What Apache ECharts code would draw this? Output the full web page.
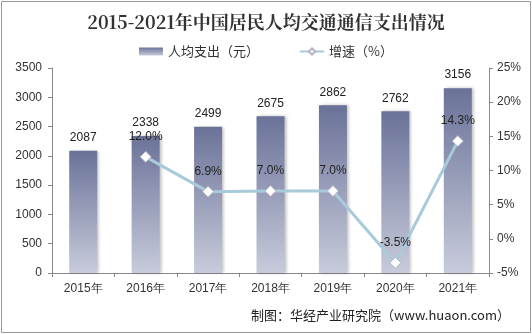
<!DOCTYPE html>
<html><head><meta charset="utf-8">
<script src="https://cdn.jsdelivr.net/npm/echarts@6/dist/echarts.min.js"></script>
<style>html,body{margin:0;padding:0;background:#fff}#c{width:532px;height:334px}</style>
</head><body><div id="c"></div>
<script>
var categories = ['2015年','2016年','2017年','2018年','2019年','2020年','2021年'];
var spending = [2087, 2338, 2499, 2675, 2862, 2762, 3156];
var growth = [null, 12.0, 6.9, 7.0, 7.0, -3.5, 14.3];
var leftTicks = [0, 3500, 500];
var rightTicks = [-5, 25, 5];

var chart = echarts.init(document.getElementById('c'));
var font = 'Liberation Sans, Arial, sans-serif';
chart.setOption({
  animation: false,
  title: {
    text: '2015-2021年中国居民人均交通通信支出情况',
    left: 'center', top: 8,
    textStyle: {fontFamily: 'Noto Serif CJK SC, Noto Sans CJK SC, serif', fontWeight: 'bold', fontSize: 18, color: '#333'}
  },
  legend: {
    top: 40, left: 'center', itemGap: 40, itemWidth: 24, itemHeight: 8,
    textStyle: {fontFamily: 'Noto Sans CJK SC, sans-serif', fontSize: 13, color: '#333'},
    data: [
      {name: '人均支出（元）', icon: 'rect'},
      {name: '增速（%）'}
    ]
  },
  graphic: [
    {type: 'rect', shape: {x: 1.5, y: 1.5, width: 529, height: 331}, style: {fill: 'none', stroke: '#999', lineWidth: 1}},
    {type: 'text', right: 22, top: 309, style: {text: '制图：华经产业研究院（www.huaon.com）', font: '13px Noto Sans CJK SC, sans-serif', fill: '#222'}}
  ],
  grid: {left: 52, right: 43, top: 68, bottom: 61},
  xAxis: {
    type: 'category', data: categories,
    axisLine: {lineStyle: {color: '#888'}},
    axisTick: {show: true, length: 4, lineStyle: {color: '#888'}},
    axisLabel: {fontFamily: font, fontSize: 12, color: '#333', margin: 10}
  },
  yAxis: [
    {type: 'value', min: leftTicks[0], max: leftTicks[1], interval: leftTicks[2],
     axisLine: {show: true, lineStyle: {color: '#888'}},
     axisTick: {show: true, length: 4, lineStyle: {color: '#888'}},
     splitLine: {show: false},
     axisLabel: {fontFamily: font, fontSize: 12, color: '#333', margin: 10, formatter: function(v){ return String(v); }}},
    {type: 'value', min: rightTicks[0], max: rightTicks[1], interval: rightTicks[2],
     axisLine: {show: true, lineStyle: {color: '#888'}},
     axisTick: {show: true, length: 4, lineStyle: {color: '#888'}},
     splitLine: {show: false},
     axisLabel: {fontFamily: font, fontSize: 12, color: '#333', margin: 8, formatter: '{value}%'}}
  ],
  series: [
    {name: '人均支出（元）', type: 'bar', data: spending, barWidth: 28, yAxisIndex: 0,
     itemStyle: {color: new echarts.graphic.LinearGradient(0, 0, 0, 1, [
       {offset: 0, color: '#6a7298'}, {offset: 1, color: '#c8cbdb'}]),
       shadowColor: 'rgba(0,0,0,0.25)', shadowBlur: 3, shadowOffsetX: 2},
     label: {show: true, position: 'top', distance: 7, fontFamily: font, fontSize: 12, color: '#222'}},
    {name: '增速（%）', type: 'line', data: growth, yAxisIndex: 1,
     symbol: 'diamond', symbolSize: 11,
     lineStyle: {color: '#a9cadb', width: 3},
     itemStyle: {color: '#fff', borderColor: '#b0b4c4', borderWidth: 1},
     label: {show: true, position: 'top', distance: 8, fontFamily: font, fontSize: 12, color: '#222',
       formatter: function(p){ return p.value.toFixed(1) + '%'; }}}
  ]
});
</script></body></html>
